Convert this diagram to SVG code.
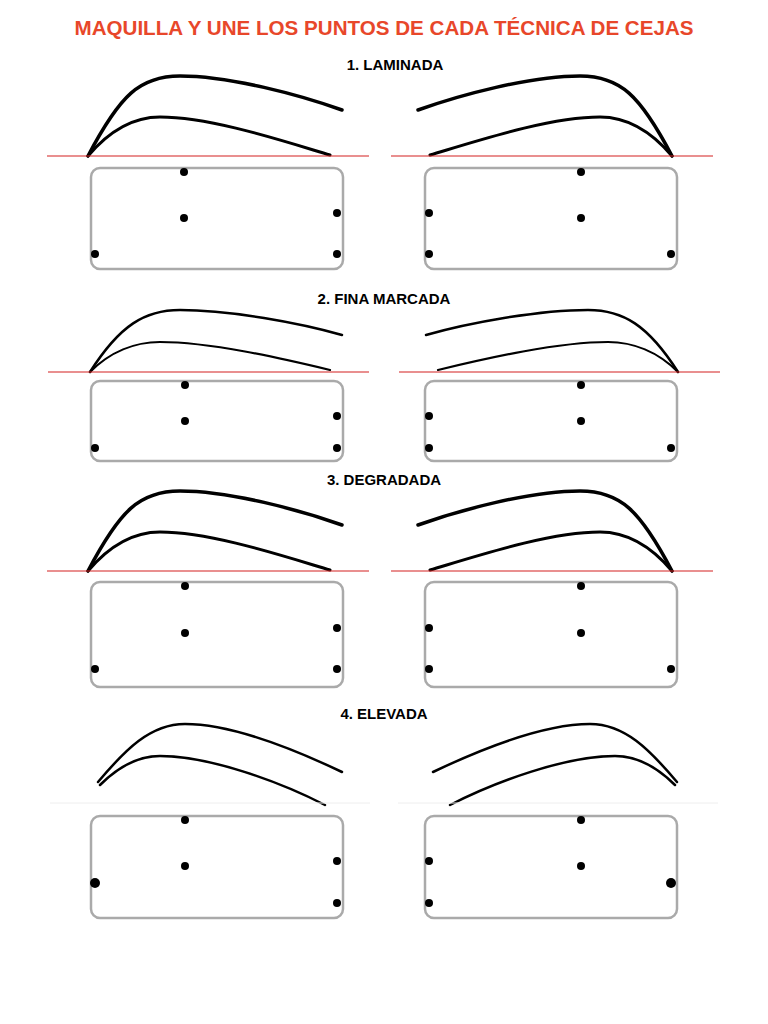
<svg xmlns="http://www.w3.org/2000/svg" xmlns:xlink="http://www.w3.org/1999/xlink" width="768" height="1024" viewBox="0 0 768 1024">
<style>
.t{font-family:"Liberation Sans",Arial,sans-serif;font-weight:bold;text-anchor:middle}
.b{fill:none;stroke:#000;stroke-linecap:round}
.r{stroke:#d42020;stroke-width:1.2}
.box{fill:none;stroke:#aaa;stroke-width:2.5}
.d{fill:#000}
</style>
<defs>
<g id="brow1">
<path class="b" stroke-width="3.5" d="M88,156 C120,95 140,76 180,76 C230,76 300,95 342,110"/>
<path class="b" stroke-width="3" d="M88,156 C110,130 135,117 160,117 C210,117 280,140 330,155"/>
</g>
<g id="brow2">
<path class="b" stroke-width="2.5" d="M90,372 C120,325 145,310 180,310 C230,310 300,323 342,335"/>
<path class="b" stroke-width="2.2" d="M90,372 C110,352 135,342 160,342 C210,342 280,358 330,370"/>
</g>
<g id="brow3">
<path class="b" stroke-width="3.5" d="M88,571 C120,510 140,491 180,491 C230,491 300,510 342,525"/>
<path class="b" stroke-width="3" d="M88,571 C110,545 135,532 160,532 C210,532 280,555 330,570"/>
</g>
<g id="brow4">
<path class="b" stroke-width="2.5" d="M98,782 C125,750 150,724 185,724 C235,724 300,752 342,772"/>
<path class="b" stroke-width="2.5" d="M100,785 C115,770 135,756 160,756 C210,756 280,782 325,805"/>
</g>
</defs>
<rect width="768" height="1024" fill="#fff"/>
<text class="t" x="384" y="35" font-size="20.6" fill="#e8472a">MAQUILLA Y UNE LOS PUNTOS DE CADA TÉCNICA DE CEJAS</text>
<text class="t" x="395" y="70" font-size="15">1.  LAMINADA</text>
<text class="t" x="384" y="304" font-size="15">2. FINA MARCADA</text>
<text class="t" x="384" y="485" font-size="15">3. DEGRADADA</text>
<text class="t" x="384" y="719" font-size="15">4. ELEVADA</text>
<g id="brows">
<use xlink:href="#brow1"/><use xlink:href="#brow1" transform="translate(760,0) scale(-1,1)"/>
<use xlink:href="#brow2"/><use xlink:href="#brow2" transform="translate(768,0) scale(-1,1)"/>
<use xlink:href="#brow3"/><use xlink:href="#brow3" transform="translate(760,0) scale(-1,1)"/>
<use xlink:href="#brow4"/><use xlink:href="#brow4" transform="translate(775,0) scale(-1,1)"/>
</g>
<g id="lines">
<line class="r" x1="47" y1="156" x2="369" y2="156"/><line class="r" x1="391" y1="156" x2="713" y2="156"/>
<line class="r" x1="48" y1="372" x2="369" y2="372"/><line class="r" x1="399" y1="372" x2="720" y2="372"/>
<line class="r" x1="47" y1="571" x2="369" y2="571"/><line class="r" x1="391" y1="571" x2="713" y2="571"/>
<line x1="50" y1="803" x2="370" y2="803" stroke="#eee"/><line x1="398" y1="803" x2="718" y2="803" stroke="#eee"/>
</g>
<g id="box1">
<rect class="box" x="91" y="168" width="252" height="101" rx="9"/>
<circle class="d" cx="184" cy="172" r="4"/><circle class="d" cx="184" cy="218" r="4"/><circle class="d" cx="337" cy="213" r="4"/><circle class="d" cx="95" cy="254" r="4"/><circle class="d" cx="337" cy="254" r="4"/>
<rect class="box" x="425" y="168" width="252" height="101" rx="9"/>
<circle class="d" cx="581" cy="172" r="4"/><circle class="d" cx="581" cy="218" r="4"/><circle class="d" cx="429" cy="213" r="4"/><circle class="d" cx="429" cy="254" r="4"/><circle class="d" cx="671" cy="254" r="4"/>
</g>
<g id="box2">
<rect class="box" x="91" y="381" width="252" height="80" rx="9"/>
<circle class="d" cx="185" cy="385" r="4"/><circle class="d" cx="185" cy="421" r="4"/><circle class="d" cx="337" cy="416" r="4"/><circle class="d" cx="95" cy="448" r="4"/><circle class="d" cx="337" cy="448" r="4"/>
<rect class="box" x="425" y="381" width="252" height="80" rx="9"/>
<circle class="d" cx="581" cy="385" r="4"/><circle class="d" cx="581" cy="421" r="4"/><circle class="d" cx="429" cy="416" r="4"/><circle class="d" cx="429" cy="448" r="4"/><circle class="d" cx="671" cy="448" r="4"/>
</g>
<g id="box3">
<rect class="box" x="91" y="582" width="252" height="105" rx="9"/>
<circle class="d" cx="185" cy="586" r="4"/><circle class="d" cx="185" cy="633" r="4"/><circle class="d" cx="337" cy="628" r="4"/><circle class="d" cx="95" cy="669" r="4"/><circle class="d" cx="337" cy="669" r="4"/>
<rect class="box" x="425" y="582" width="252" height="105" rx="9"/>
<circle class="d" cx="581" cy="586" r="4"/><circle class="d" cx="581" cy="633" r="4"/><circle class="d" cx="429" cy="628" r="4"/><circle class="d" cx="429" cy="669" r="4"/><circle class="d" cx="671" cy="669" r="4"/>
</g>
<g id="box4">
<rect class="box" x="91" y="816" width="252" height="102" rx="9"/>
<circle class="d" cx="185" cy="820" r="4"/><circle class="d" cx="185" cy="866" r="4"/><circle class="d" cx="337" cy="861" r="4"/><circle class="d" cx="95" cy="883" r="5"/><circle class="d" cx="337" cy="903" r="4"/>
<rect class="box" x="425" y="816" width="252" height="102" rx="9"/>
<circle class="d" cx="581" cy="820" r="4"/><circle class="d" cx="581" cy="866" r="4"/><circle class="d" cx="429" cy="861" r="4"/><circle class="d" cx="671" cy="883" r="5"/><circle class="d" cx="429" cy="903" r="4"/>
</g>
</svg>
